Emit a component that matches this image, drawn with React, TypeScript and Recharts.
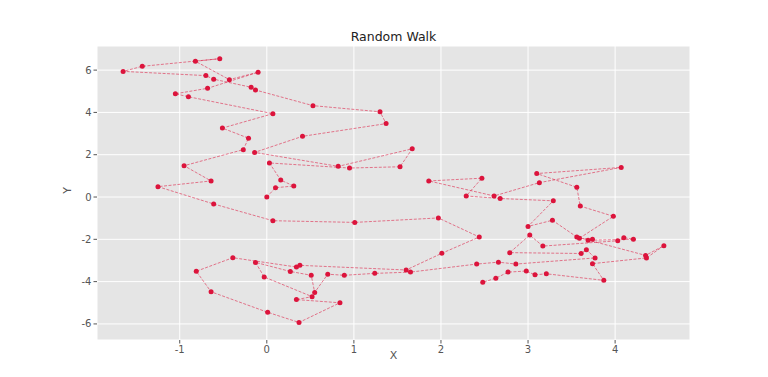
import React from 'react';
import { ScatterChart, Scatter, XAxis, YAxis, CartesianGrid } from 'recharts';

// walk positions, in step order
const walkX = [
  0, 0.1, 0.31, 0.16, 0.03, 0.95, 1.53, 1.67, 0.82, -0.14,
  0.41, 1.37, 1.3, 0.53, -0.13, -0.18, -0.61, -0.7, -1.65, -1.43,
  -0.54, -0.82, -0.43, -0.1, -0.68, -1.05, -0.9, 0.07, -0.51, -0.21,
  -0.27, -0.95, -0.64, -1.25, -0.61, 0.07, 1.01, 1.97, 2.44, 2.01,
  1.6, 0.38, 0.34, -0.39, -0.81, -0.64, 0.01, 0.37, 0.84, 0.34,
  0.52, -0.03, -0.13, 0.27, 0.51, 0.55, 0.7, 0.89, 1.24, 1.65,
  2.41, 2.66, 2.86, 3.77, 3.67, 3.61, 2.79, 3.02, 3.17, 4.03,
  4.1, 4.21, 3.69, 3.74, 3.59, 3.98, 3.6, 3.56, 3.1, 4.07,
  3.13, 2.61, 1.86, 2.47, 2.29, 2.68, 3.29, 3.0, 3.28, 3.56,
  4.35, 4.56, 4.36, 3.74, 3.87, 3.21, 3.08, 2.98, 2.77, 2.63,
  2.48,
];
const walkY = [
  0, 0.44, 0.52, 0.8, 1.61, 1.37, 1.43, 2.28, 1.45, 2.11,
  2.87, 3.47, 4.03, 4.32, 5.06, 5.19, 5.57, 5.74, 5.94, 6.18,
  6.54, 6.42, 5.55, 5.9, 5.14, 4.88, 4.74, 3.94, 3.26, 2.78,
  2.24, 1.48, 0.76, 0.49, -0.33, -1.12, -1.2, -0.99, -1.89, -2.66,
  -3.45, -3.23, -3.31, -2.87, -3.51, -4.48, -5.45, -5.93, -5.0, -4.85,
  -4.71, -3.78, -3.09, -3.52, -3.7, -4.51, -3.65, -3.7, -3.61, -3.55,
  -3.17, -3.08, -3.17, -2.88, -2.49, -2.67, -2.63, -1.8, -2.32, -2.07,
  -1.92, -2.0, -2.04, -2.0, -1.95, -0.91, -0.43, 0.46, 1.11, 1.4,
  0.68, 0.05, 0.76, 0.89, 0.05, -0.07, -0.18, -1.39, -1.1, -1.89,
  -2.76, -2.3, -2.88, -3.15, -3.94, -3.63, -3.68, -3.5, -3.55, -3.84,
  -4.03,
];
const xTicks = [-1, 0, 1, 2, 3, 4];
const yTicks = [-6, -4, -2, 0, 2, 4, 6];

const data = walkX.map((x, i) => ({ x, y: walkY[i] }));

const font = 'DejaVu Sans, sans-serif';
const tickStyle = { fontSize: 10, fill: '#555', fontFamily: font };

const Dot = (props: any) => <circle cx={props.cx} cy={props.cy} r={2.5} fill="#DC143C" />;

export default function App() {
  return (
    <div style={{ position: 'absolute', left: 0, top: 0, width: 768, height: 377, background: '#fff' }}>
      <div style={{ position: 'absolute', left: 97, width: 593, top: 29, textAlign: 'center', fontFamily: font, fontSize: 12.5, color: '#222' }}>
        Random Walk
      </div>
      <div style={{ position: 'absolute', left: 97, width: 593, top: 349, textAlign: 'center', fontFamily: font, fontSize: 11, color: '#555' }}>
        X
      </div>
      <div style={{ position: 'absolute', left: 64, top: 184, fontFamily: font, fontSize: 11, color: '#555', transform: 'rotate(-90deg)' }}>
        Y
      </div>
      <ScatterChart width={768} height={377} margin={{ top: 46, right: 78, bottom: 0, left: 0 }}>
        <CartesianGrid fill="#E5E5E5" stroke="#fff" strokeWidth={1} />
        <XAxis
          type="number"
          dataKey="x"
          domain={[-1.95, 4.86]}
          ticks={xTicks}
          height={37}
          axisLine={false}
          tickLine={{ stroke: '#555' }}
          tickSize={3.5}
          tick={tickStyle}
        />
        <YAxis
          type="number"
          dataKey="y"
          domain={[-6.76, 7.14]}
          ticks={yTicks}
          width={97}
          axisLine={false}
          tickLine={{ stroke: '#555' }}
          tickSize={3.5}
          tick={tickStyle}
        />
        <Scatter
          data={data}
          fill="#DC143C"
          line={{ stroke: '#DC143C', strokeOpacity: 0.55, strokeWidth: 1, strokeDasharray: '3 1.5' }}
          lineType="joint"
          shape={Dot}
          isAnimationActive={false}
        />
      </ScatterChart>
    </div>
  );
}
